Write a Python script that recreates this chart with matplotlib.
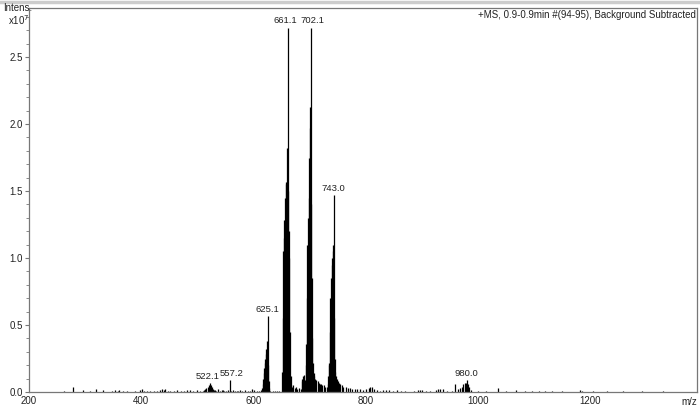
import numpy as np
import matplotlib.pyplot as plt
from matplotlib.ticker import MultipleLocator, FormatStrFormatter

plt.rcParams['font.family'] = ['Liberation Sans', 'DejaVu Sans']

# stick spectrum, intensities in units of 1e7
low_mz = [262, 278, 296, 309, 319, 332, 347, 353, 358, 361, 368, 374, 389, 398,
          401, 404, 410, 416, 422, 428, 434, 437, 440, 442, 447, 452, 458, 463,
          470, 476, 481, 486, 492, 499, 505]
low_int = [0.006, 0.035, 0.015, 0.008, 0.02, 0.012, 0.01, 0.015, 0.01, 0.015, 0.008,
           0.01, 0.01, 0.012, 0.025, 0.01, 0.01, 0.007, 0.008, 0.01, 0.012, 0.025,
           0.018, 0.02, 0.01, 0.008, 0.01, 0.012, 0.008, 0.01, 0.015, 0.015, 0.008,
           0.012, 0.01]

c522_mz = [510, 512, 514, 516, 518, 520, 522.1, 524, 526, 528, 530, 532, 534, 537,
           540, 543, 545, 548, 551, 554, 557.2, 560, 564, 567, 570, 573, 576, 580,
           585, 590, 594, 597, 601, 606, 610]
c522_int = [0.008, 0.012, 0.02, 0.03, 0.04, 0.05, 0.065, 0.05, 0.04, 0.025, 0.015,
            0.012, 0.01, 0.025, 0.01, 0.015, 0.012, 0.01, 0.008, 0.012, 0.09, 0.01,
            0.015, 0.01, 0.008, 0.01, 0.015, 0.008, 0.012, 0.008, 0.01, 0.02, 0.015,
            0.01, 0.008]

c625_mz = [614, 615, 616, 617, 618, 619, 620, 621, 622, 623, 624, 625.1, 626, 627,
           628, 630, 634, 638, 642, 646, 650]
c625_int = [0.015, 0.03, 0.06, 0.1, 0.14, 0.18, 0.22, 0.25, 0.28, 0.32, 0.38, 0.567,
            0.2, 0.08, 0.03, 0.01, 0.008, 0.01, 0.006, 0.008, 0.01]

c661_mz = [651, 652, 653, 654, 655, 656, 657, 658, 659, 660, 661.1, 662, 663, 664,
           665, 666, 667, 669, 671, 673, 675, 678, 681, 684]
c661_int = [0.15, 0.55, 1.05, 1.15, 1.28, 1.45, 1.55, 1.57, 1.57, 1.82, 2.72, 1.5,
            1.2, 1.0, 0.45, 0.12, 0.05, 0.04, 0.05, 0.03, 0.04, 0.02, 0.03, 0.02]

c702_mz = [686, 687, 688, 689, 690, 691, 692, 693, 694, 695, 696, 697, 698, 699,
           700, 701, 702.1, 703, 704, 705, 706, 707, 708, 710, 712, 714, 716, 718,
           720, 722, 725, 728, 731]
c702_int = [0.08, 0.1, 0.12, 0.1, 0.13, 0.09, 0.07, 0.36, 0.2, 0.7, 1.1, 1.3, 1.45,
            1.75, 1.97, 2.13, 2.72, 1.4, 0.85, 0.4, 0.22, 0.14, 0.12, 0.1, 0.09,
            0.08, 0.07, 0.06, 0.06, 0.05, 0.05, 0.04, 0.04]

c743_mz = [732, 733, 734, 735, 736, 737, 738, 739, 740, 741, 742, 743.0, 744, 745,
           746, 747, 748, 750, 752, 754, 757, 760, 764, 768, 772, 776, 780, 785,
           790, 795]
c743_int = [0.06, 0.12, 0.22, 0.2, 0.45, 0.7, 0.85, 0.95, 1.0, 1.05, 1.1, 1.47,
            0.55, 0.25, 0.15, 0.12, 0.1, 0.08, 0.07, 0.06, 0.05, 0.04, 0.04, 0.03,
            0.03, 0.025, 0.02, 0.025, 0.02, 0.015]

high_mz = [800, 805, 808, 811, 815, 820, 826, 831, 836, 842, 848, 856, 863, 870,
           885, 893, 897, 900, 907, 915, 925, 929, 933, 938, 945, 954, 959, 965,
           968, 971, 974, 976, 978, 980.0, 982, 984, 987, 1000, 1015, 1036, 1050,
           1067, 1084, 1096, 1108, 1120, 1132, 1150, 1182, 1186, 1205, 1230, 1259,
           1292, 1330]
high_int = [0.025, 0.03, 0.04, 0.035, 0.02, 0.015, 0.008, 0.015, 0.012, 0.015, 0.01,
            0.012, 0.007, 0.006, 0.008, 0.015, 0.012, 0.015, 0.006, 0.01, 0.012,
            0.02, 0.025, 0.02, 0.008, 0.01, 0.06, 0.02, 0.03, 0.04, 0.06, 0.07,
            0.065, 0.09, 0.06, 0.035, 0.015, 0.006, 0.005, 0.03, 0.005, 0.012, 0.01,
            0.008, 0.006, 0.006, 0.006, 0.004, 0.012, 0.01, 0.008, 0.004, 0.006,
            0.006, 0.004]

label_mz = [522.1, 557.2, 625.1, 661.1, 702.1, 743.0, 980.0]

mz = np.array(low_mz + c522_mz + c625_mz + c661_mz + c702_mz + c743_mz + high_mz)
inten = np.array(low_int + c522_int + c625_int + c661_int + c702_int + c743_int + high_int)

fig = plt.figure(figsize=(7, 4.2), dpi=100)
ax = fig.add_axes([29/700, 28/420, 668/700, 384/420])

ax.vlines(mz, 0, inten, color='black', lw=0.9)

# peak labels, nudged apart where they crowd
nudge = {522.1: -1.5, 557.2: 1.5, 661.1: -2.0, 702.1: 1.0}
for m in label_mz:
    h = inten[np.argmin(np.abs(mz - m))]
    ax.annotate(f'{m:.1f}', (m, h), xytext=(nudge.get(m, 0), 1.5),
                textcoords='offset points', ha='center', va='bottom',
                fontsize=6.8, color='#222222')

ax.set_xlim(200, 1390)
ax.set_ylim(0, 2.866)
ax.xaxis.set_major_locator(MultipleLocator(200))
ax.yaxis.set_major_locator(MultipleLocator(0.5))
ax.yaxis.set_minor_locator(MultipleLocator(0.1))
ax.yaxis.set_major_formatter(FormatStrFormatter('%.1f'))

for s in ax.spines.values():
    s.set_color('#777777')
    s.set_linewidth(0.9)
ax.tick_params(axis='both', which='major', labelsize=7, colors='#777777',
               labelcolor='#222222', length=3, width=0.8, pad=1.5)
ax.tick_params(axis='y', which='minor', colors='#777777', length=2, width=0.6)
ax.tick_params(axis='x', which='major', length=0, pad=3)

ax.text(1.0, -0.012, 'm/z', transform=ax.transAxes, ha='right', va='top',
        fontsize=7, color='#222222')
ax.text(0.998, 0.994, '+MS, 0.9-0.9min #(94-95), Background Subtracted',
        transform=ax.transAxes, ha='right', va='top', fontsize=7, color='#222222')
fig.text(3/700, 1 - 8/420, 'Intens.', ha='left', va='center', fontsize=7, color='#222222')
fig.text(8/700, 1 - 20/420, r'x10$^7$', ha='left', va='center', fontsize=7, color='#222222')

# grey strip along the top edge
fig.add_artist(plt.Line2D([0, 1], [1 - 1.5/420, 1 - 1.5/420], color='#cccccc', lw=2.5,
                          transform=fig.transFigure))

fig.savefig('out.png', dpi=100, facecolor='white')
